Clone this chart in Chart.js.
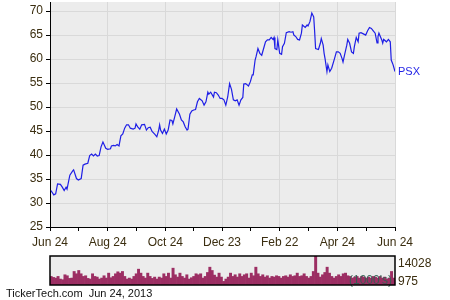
<!DOCTYPE html>
<html>
<head>
<meta charset="utf-8">
<script src="https://cdn.jsdelivr.net/npm/chart.js@4"></script>
<style>
body{margin:0;background:#fff;}
#wrap{position:relative;width:450px;height:300px;font-family:Arial,"Liberation Sans",sans-serif;}
#price{position:absolute;left:0;top:0;}
#vol{position:absolute;left:0;top:250px;}
#foot{position:absolute;left:6px;top:287px;font-size:11px;line-height:13px;color:#111;white-space:pre;}
</style>
</head>
<body>
<div id="wrap">
<canvas id="price" width="450" height="250"></canvas>
<canvas id="vol" width="450" height="50"></canvas>
<div id="foot">TickerTech.com  Jun 24, 2013</div>
</div>
<script>
// PSX closing prices, x = days since Jun 24, 2012
var days = [1,4,6,8,11,13,15,17,18,21,24,25,28,30,33,35,37,40,42,44,46,48,50,52,54,56,59,61,64,65,67,69,71,73,75,77,79,81,83,85,88,90,91,93,95,97,100,102,104,106,108,111,113,115,116,117,119,121,123,125,127,129,130,132,134,137,139,141,143,145,146,148,150,152,154,156,158,161,163,165,167,168,170,173,174,176,178,180,182,184,186,188,190,192,194,196,198,200,202,204,205,207,210,212,214,215,217,218,220,222,224,226,228,230,232,234,236,237,238,240,241,243,245,246,248,250,253,255,257,258,260,262,264,266,267,270,272,273,275,277,279,280,281,284,286,287,289,290,291,293,294,296,298,301,303,305,307,309,310,312,314,315,317,319,321,322,324,326,327,329,332,334,336,338,340,342,344,346,347,348,351,352,353,356,358,360,361,363,365];
var prices = [32.6,31.7,31.9,34.0,33.9,33.3,32.6,33.3,32.9,35.8,36.7,36.9,35.1,34.8,35.1,37.9,38.1,38.3,39.9,40.2,39.8,40.2,39.8,39.9,41.7,42.7,41.4,41.2,41.3,41.9,42.0,41.9,42.2,41.9,44.0,44.4,45.6,46.3,46.3,45.6,45.4,45.6,46.5,45.8,45.4,46.3,46.4,45.2,45.7,45.8,44.9,44.3,43.8,45.2,46.3,45.2,44.5,45.4,44.4,45.2,47.3,47.2,46.5,48.0,49.6,48.5,47.3,46.9,45.9,45.2,45.4,48.5,49.2,49.4,49.5,51.1,51.8,51.3,50.4,51.1,53.1,52.7,53.1,52.1,53.1,53.0,52.5,51.8,51.8,51.5,50.4,52.1,54.9,53.7,51.5,51.3,51.5,50.4,51.5,52.0,54.8,54.9,54.4,55.3,56.7,56.7,59.8,60.5,62.2,61.2,60.8,62.2,63.6,64.0,64.0,64.5,64.1,64.5,62.2,62.0,64.0,61.2,61.0,62.6,63.3,65.5,65.7,65.6,65.7,65.0,64.7,64.1,64.0,65.4,67.1,66.6,67.1,66.9,67.8,69.6,68.8,65.7,62.2,62.0,63.3,64.3,62.9,61.2,60.1,57.4,58.8,57.4,58.1,60.1,61.5,61.5,61.2,60.1,59.4,61.2,62.9,64.1,63.3,61.5,61.2,62.6,64.5,63.6,65.4,65.5,65.2,65.0,65.9,66.6,66.4,65.9,65.4,63.4,64.7,65.4,64.0,63.3,64.1,63.6,64.1,63.6,59.8,58.8,57.4];

// volume (1000's)
var volumes = [4836,4390,4094,4836,3648,3351,5579,5133,3945,4094,7064,6024,7509,6024,4836,5133,3945,3648,6024,4836,4539,3648,4094,5133,4094,6321,4242,4836,6024,6915,6321,7064,4836,3648,4094,3648,4836,6024,8103,6321,4836,4094,6321,4836,3945,4539,3648,4539,4094,6024,4836,6321,4094,8549,5579,4539,6321,4836,4094,5579,3648,4242,4836,6024,5579,6024,4094,4836,6618,8994,7509,5430,4539,6321,4539,2608,3648,
4539,6321,4836,5579,4539,6024,4836,5579,6024,4094,6321,5133,8994,6024,4836,5579,4539,5133,4094,4836,4539,5133,4836,4094,4836,5133,4539,5579,4836,5133,6321,4836,5133,6024,4836,4094,4836,7064,14028,6321,4539,5579,6618,8994,6321,4836,4094,4836,5579,4836,6024,6321,5133,4836,4094,4539,4836,4094,4836,4539,4094,4539,4094,4836,4539,4094,4836,4094,4539,3648,4094,7064,4094];
var volMin = 975, volMax = 14028;

var tickDays = [0,61,122,182,243,304,365];
var tickLabels = ['Jun 24','Aug 24','Oct 24','Dec 23','Feb 22','Apr 24','Jun 24'];
var yTicks = [25,27.5,30,32.5,35,37.5,40,42.5,45,47.5,50,52.5,55,57.5,60,62.5,65,67.5,70];
var ticker = 'PSX';

var xTicks = [];
tickDays.forEach(function(d, i) {
	xTicks.push(d);
	if (i < tickDays.length - 1) xTicks.push((d + tickDays[i + 1]) / 2);
});

var labelColor = '#3b2e10';
var gridColor = '#d9d9d9';

var plotBg = {
	id: 'plotBg',
	beforeDraw: function(chart) {
		var a = chart.chartArea, ctx = chart.ctx;
		ctx.save();
		ctx.fillStyle = '#ececec';
		ctx.fillRect(a.left, a.top, a.right - a.left, a.bottom - a.top);
		ctx.restore();
	}
};

var tickerLabel = {
	id: 'tickerLabel',
	afterDatasetsDraw: function(chart) {
		var pts = chart.getDatasetMeta(0).data;
		var p = pts[pts.length - 1];
		var ctx = chart.ctx;
		ctx.save();
		ctx.font = '11px Arial, "Liberation Sans", sans-serif';
		ctx.fillStyle = '#1f1fe6';
		ctx.textAlign = 'left';
		ctx.textBaseline = 'middle';
		ctx.fillText(ticker, p.x + 3, p.y);
		ctx.restore();
	}
};

var ctx = document.getElementById('price');
new Chart(ctx, {
	type: 'line',
	data: {
		datasets: [{
			label: ticker,
			data: days.map(function(d, i) { return {x: d, y: prices[i]}; }),
			borderColor: '#1f1fe6',
			borderWidth: 1.2,
			pointRadius: 0,
			tension: 0,
			fill: false
		}]
	},
	options: {
		responsive: false,
		animation: false,
		devicePixelRatio: 1,
		layout: {padding: {left: 0, right: 55, top: 2, bottom: 0}},
		plugins: {legend: {display: false}, tooltip: {enabled: false}},
		scales: {
			x: {
				type: 'linear',
				min: 0,
				max: 365,
				afterBuildTicks: function(s) { s.ticks = xTicks.map(function(v) { return {value: v}; }); },
				afterFit: function(s) { s.height = 23; s.paddingLeft = 0; s.paddingRight = 0; },
				ticks: {
					autoSkip: false,
					maxRotation: 0,
					padding: 4,
					color: labelColor,
					font: {family: 'Arial, "Liberation Sans", sans-serif', size: 12},
					callback: function(v, i) { return i % 2 === 0 ? tickLabels[i / 2] : ''; }
				},
				grid: {
					color: function(c) { return c.index % 2 === 0 ? gridColor : 'rgba(0,0,0,0)'; },
					tickColor: '#000',
					tickLength: 4
				},
				border: {color: '#000', width: 1}
			},
			y: {
				min: 25,
				max: 71.9,
				afterBuildTicks: function(s) { s.ticks = yTicks.map(function(v) { return {value: v}; }); },
				afterFit: function(s) { s.width = 50; s.paddingTop = 0; s.paddingBottom = 0; },
				ticks: {
					padding: 3,
					color: labelColor,
					font: {family: 'Arial, "Liberation Sans", sans-serif', size: 12},
					callback: function(v) { return v % 5 === 0 ? v : ''; }
				},
				grid: {
					color: function(c) { return c.tick && c.tick.value % 5 === 0 ? gridColor : 'rgba(0,0,0,0)'; },
					tickColor: '#000',
					tickLength: 4
				},
				border: {color: '#000', width: 1}
			}
		}
	},
	plugins: [plotBg, tickerLabel]
});

var volFrame = {
	id: 'volFrame',
	afterDraw: function(chart) {
		var a = chart.chartArea, ctx = chart.ctx;
		ctx.save();
		ctx.font = '12px Arial, "Liberation Sans", sans-serif';
		ctx.textBaseline = 'middle';
		ctx.fillStyle = 'rgba(45,95,80,0.9)';
		ctx.textAlign = 'right';
		ctx.fillText("(1000's)", a.right - 3, a.bottom - 4);
		ctx.strokeStyle = '#000';
		ctx.lineWidth = 1.5;
		ctx.strokeRect(a.left, a.top, a.right - a.left, a.bottom - a.top);
		ctx.fillStyle = labelColor;
		ctx.textAlign = 'left';
		ctx.fillText(String(volMax), a.right + 3, a.top + 8);
		ctx.fillText(String(volMin), a.right + 3, a.bottom - 3);
		ctx.restore();
	}
};

new Chart(document.getElementById('vol'), {
	type: 'bar',
	data: {
		labels: volumes.map(function(v, i) { return i; }),
		datasets: [{
			data: volumes,
			base: volMin,
			backgroundColor: '#9c2e63',
			barPercentage: 1,
			categoryPercentage: 1
		}]
	},
	options: {
		responsive: false,
		animation: false,
		devicePixelRatio: 1,
		layout: {padding: {left: 50, right: 55, top: 6, bottom: 15}},
		plugins: {legend: {display: false}, tooltip: {enabled: false}},
		scales: {
			x: {display: false},
			y: {display: false, min: volMin, max: volMax}
		}
	},
	plugins: [plotBg, volFrame]
});
</script>
</body>
</html>
